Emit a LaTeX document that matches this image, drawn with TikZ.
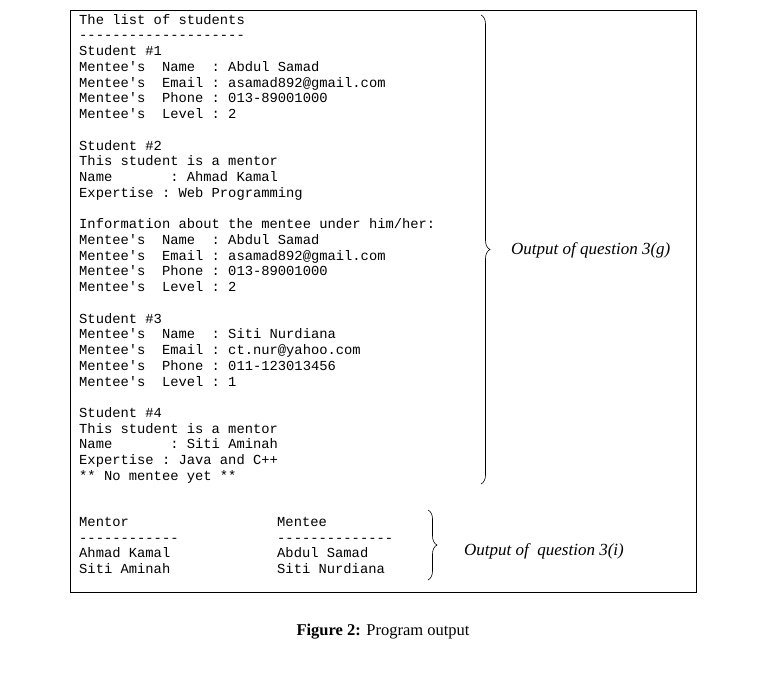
\documentclass[tikz,border=0pt]{standalone}
\usepackage{fontspec}
\setmainfont{Liberation Serif}
\setmonofont{Liberation Mono}
\usetikzlibrary{decorations.pathreplacing}
\begin{document}
\begin{tikzpicture}[x=1pt,y=-1pt,
  code/.style={anchor=north west,align=left,inner sep=0pt,font=\fontsize{13.8}{15.73}\selectfont\ttfamily},
  lbl/.style={anchor=west,inner sep=0pt,font=\fontsize{17}{19}\selectfont\itshape},
  br/.style={decorate,decoration={brace,amplitude=9pt},line width=0.6pt}]
\useasboundingbox (0,0) rectangle (765,678);
\node[draw,line width=0.7pt,minimum width=626pt,minimum height=582pt,anchor=north west,inner sep=0pt] (frame) at (70,10) {};
\node[code] (g) at (79,14) {The list of students\\
--------------------\\
Student \#1\\
Mentee's~ Name~ : Abdul Samad\\
Mentee's~ Email : asamad892@gmail.com\\
Mentee's~ Phone : 013-89001000\\
Mentee's~ Level : 2\\[15.73pt]
Student \#2\\
This student is a mentor\\
Name~~~~~~ : Ahmad Kamal\\
Expertise : Web Programming\\[15.73pt]
Information about the mentee under him/her:\\
Mentee's~ Name~ : Abdul Samad\\
Mentee's~ Email : asamad892@gmail.com\\
Mentee's~ Phone : 013-89001000\\
Mentee's~ Level : 2\\[15.73pt]
Student \#3\\
Mentee's~ Name~ : Siti Nurdiana\\
Mentee's~ Email : ct.nur@yahoo.com\\
Mentee's~ Phone : 011-123013456\\
Mentee's~ Level : 1\\[15.73pt]
Student \#4\\
This student is a mentor\\
Name~~~~~~ : Siti Aminah\\
Expertise : Java and C++\\
** No mentee yet **};
\node[code] (m1) at (79,517) {Mentor\\------------\\Ahmad Kamal\\Siti Aminah};
\node[code] (m2) at (277,517) {Mentee\\--------------\\Abdul Samad\\Siti Nurdiana};
\coordinate (b1t) at (481,15);
\coordinate (b1b) at (481,484);
\coordinate (b2t) at (428,510);
\coordinate (b2b) at (428,580);
\draw[br] (b1t) -- (b1b);
\draw[br] (b2t) -- (b2b);
\node[lbl] (l1) at (511,250) {Output of question 3(g)};
\node[lbl] (l2) at (464,551) {Output of~ question 3(i)};
\node[inner sep=0pt,font=\fontsize{16.5}{18}\selectfont] (cap) at (383,632) {\textbf{Figure 2:} Program output};
\end{tikzpicture}
\end{document}
